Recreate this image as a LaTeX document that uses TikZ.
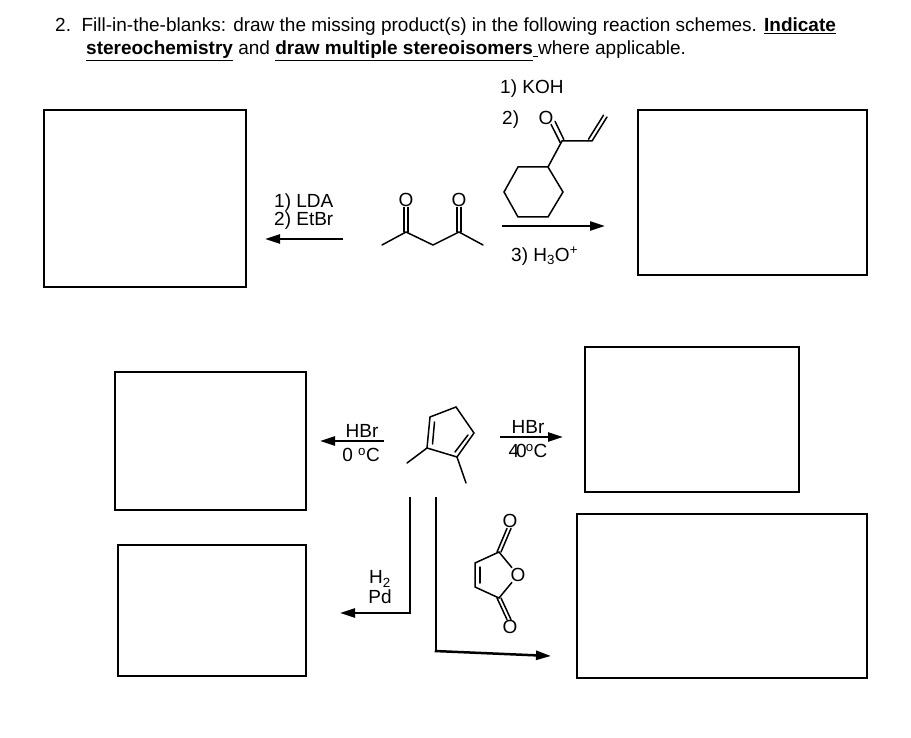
\documentclass[tikz,border=0pt]{standalone}
\usepackage{fontspec}
\setmainfont{Liberation Sans}
\usetikzlibrary{arrows.meta,calc}
\begin{document}
\begin{tikzpicture}[x=1pt,y=-1pt,
  box/.style={draw,line width=1.2pt},
  bond/.style={line width=1.5pt,line cap=round},
  rxn/.style={line width=2.5pt,-{Triangle[length=15pt,width=9pt]}},
  txt/.style={font=\fontsize{19}{21}\selectfont,inner sep=0pt},
  atom/.style={font=\fontsize{19}{19}\selectfont,inner sep=0.5pt,fill=white}]
\useasboundingbox (0,0) rectangle (911,738);
\node[txt,anchor=west] (h1) at (55,27) {2.\ \ Fill-in-the-blanks: draw the missing product(s) in the following reaction schemes. \underline{\textbf{Indicate}}};
\node[txt,anchor=west] (h2) at (86,51) {\underline{\textbf{stereochemistry}} and \underline{\textbf{draw multiple stereoisomers}}\underline{\ }where applicable.};
% boxes
\draw[box] (44,110) rectangle (246,287);
\draw[box] (638,110) rectangle (867,275);
\draw[box] (115,372) rectangle (306,510);
\draw[box] (585,347) rectangle (799,492);
\draw[box] (118,545) rectangle (306,676);
\draw[box] (577,514) rectangle (867,678);
% pentanedione
\coordinate (m1) at (382,245); \coordinate (c2) at (406,232);
\coordinate (ch) at (433,245); \coordinate (c4) at (459,232); \coordinate (m5) at (483,245);
\node[atom] (o2) at (406,200) {O}; \node[atom] (o4) at (459,200) {O};
\draw[bond] (m1)--(c2)--(ch)--(c4)--(m5);
\draw[bond] ([xshift=-2.2pt]c2)--([xshift=-2.2pt]o2.south); \draw[bond] ([xshift=2.2pt]c2)--([xshift=2.2pt]o2.south);
\draw[bond] ([xshift=-2.2pt]c4)--([xshift=-2.2pt]o4.south); \draw[bond] ([xshift=2.2pt]c4)--([xshift=2.2pt]o4.south);
% LDA arrow
\coordinate (a1s) at (343,239); \coordinate (a1e) at (265,239);
\draw[rxn] (a1s)--(a1e);
\node[txt,anchor=west] (l1) at (274,203) {1) LDA};
\node[txt,anchor=west] (l2) at (274,221) {2) EtBr};
% KOH arrow
\coordinate (a2s) at (502,226); \coordinate (a2e) at (605,226);
\draw[rxn] (a2s)--(a2e);
\node[txt,anchor=west] (k1) at (500,89) {1) KOH};
\node[txt,anchor=west] (k2) at (502,120) {2)};
\node[txt,anchor=west] (k3) at (511,256) {3) H\textsubscript{3}O\textsuperscript{+}};
% cyclohexyl vinyl ketone
\coordinate (r1) at (548,167); \coordinate (r2) at (518,167); \coordinate (r3) at (504,192);
\coordinate (r4) at (518,217); \coordinate (r5) at (548,217); \coordinate (r6) at (563,192);
\draw[bond] (r1)--(r2)--(r3)--(r4)--(r5)--(r6)--cycle;
\coordinate (cc) at (562,141); \coordinate (v1) at (592,141); \coordinate (v2) at (607,117);
\node[atom] (ok) at (546,118) {O};
\draw[bond] (r1)--(cc)--(v1)--(v2);
\draw[bond] ($(cc)+(-1.8,1.5)$) -- ($(ok.south east)+(-3,-1)$);
\draw[bond] ($(cc)+(1.8,-1.5)$) -- ($(ok.south east)+(1,-4)$);
\draw[bond] ($(v1)+(-3.5,-1.8)$)--($(v2)+(-3.5,-1.8)$);
% cyclopentene
\coordinate (p1) at (430,417); \coordinate (p2) at (456,407); \coordinate (p3) at (474,433);
\coordinate (p4) at (457,457); \coordinate (p5) at (427,448);
\draw[bond] (p1)--(p2)--(p3)--(p4)--(p5)--cycle;
\draw[bond] (434.5,422)--(432.5,444);
\draw[bond] (468,435)--(455,452);
\coordinate (me1) at (407,463); \coordinate (me2) at (466,483);
\draw[bond] (p5)--(me1); \draw[bond] (p4)--(me2);
% HBr arrows
\coordinate (b1s) at (384,441); \coordinate (b1e) at (320,441);
\draw[rxn] (b1s)--(b1e);
\node[txt] (hb1) at (362,431) {HBr}; \node[txt] (t1) at (361,455) {0 \textsuperscript{o}C};
\coordinate (b2s) at (500,437); \coordinate (b2e) at (563,437);
\draw[rxn] (b2s)--(b2e);
\node[txt] (hb2) at (528,427) {HBr}; \node[txt] (t2) at (528,451) {4\kern-3pt0\kern-1pt\textsuperscript{o}C};
% H2 Pd
\coordinate (d1) at (410,497); \coordinate (d2) at (410,613); \coordinate (d3) at (340,613);
\draw[line width=2.5pt] (d1)--(d2);
\draw[rxn] ($(d2)+(1.25,0)$)--(d3);
\node[txt] (hh) at (380,579) {H\textsubscript{2}}; \node[txt] (pd) at (380,597) {Pd};
% Diels-Alder
\coordinate (e1) at (436,497); \coordinate (e2) at (436,651); \coordinate (e3) at (551,656);
\draw[line width=2.5pt] (e1)--(e2);
\draw[rxn] ($(e2)+(-1.25,0)$)--(e3);
% maleic anhydride
\coordinate (q1) at (499,552); \coordinate (q2) at (475,563); \coordinate (q3) at (475,587);
\coordinate (q4) at (499,598);
\node[atom] (qo) at (518,575) {O};
\node[atom] (qt) at (510,521) {O}; \node[atom] (qb) at (510,627) {O};
\draw[bond] (qo)--(q1)--(q2)--(q3)--(q4)--(qo);
\draw[bond] (480,567)--(480,583);
\draw[bond] ($(q1)+(-2,0)$)--($(qt.south)+(-3,0)$); \draw[bond] ($(q1)+(2,0)$)--($(qt.south)+(1,0)$);
\draw[bond] ($(q4)+(-2,0)$)--($(qb.north)+(-3,0)$); \draw[bond] ($(q4)+(2,0)$)--($(qb.north)+(1,0)$);
\end{tikzpicture}
\end{document}
